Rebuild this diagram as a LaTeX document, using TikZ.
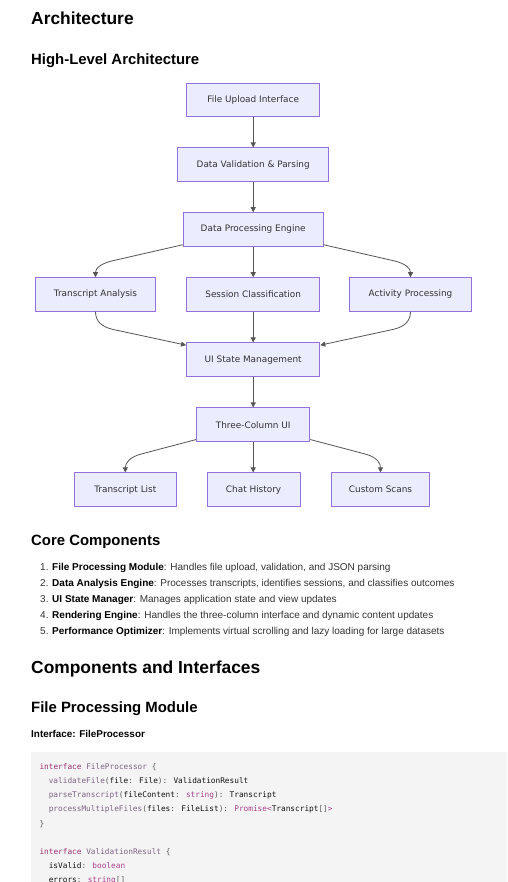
\documentclass[tikz,border=0pt]{standalone}
\usepackage{fontspec}
\setmainfont{Liberation Sans}
\newfontfamily\nodefont{DejaVu Sans}
\newfontfamily\codefont{DejaVu Sans Mono}
\usetikzlibrary{arrows.meta}
\definecolor{nodefill}{HTML}{ECECFF}
\definecolor{nodeline}{HTML}{9370DB}
\definecolor{edgecol}{HTML}{555555}
\definecolor{txt}{HTML}{333333}
\definecolor{codebg}{HTML}{F4F4F4}
\definecolor{ckw}{HTML}{9A3070}
\definecolor{cfn}{HTML}{7E6384}
\definecolor{cpu}{HTML}{5A5A5A}
\definecolor{cty}{HTML}{111111}
\definecolor{cbi}{HTML}{A8408C}
\newcommand{\ckw}[1]{\textcolor{ckw}{#1}}
\newcommand{\cfn}[1]{\textcolor{cfn}{#1}}
\newcommand{\cpu}[1]{\textcolor{cpu}{#1}}
\newcommand{\cty}[1]{\textcolor{cty}{#1}}
\newcommand{\cbi}[1]{\textcolor{cbi}{#1}}
\begin{document}
\begin{tikzpicture}[x=1pt,y=-1pt,
  box/.style={draw=nodeline, fill=nodefill, line width=0.9pt, minimum height=33.6pt,
    inner sep=0pt, text=txt, font=\nodefont\fontsize{8.9}{10}\selectfont},
  edge/.style={draw=edgecol, line width=0.8pt, -{Triangle[length=5pt,width=5pt]}},
  htwo/.style={anchor=base west, inner sep=0pt, font=\bfseries\fontsize{17.4}{20}\selectfont},
  hthree/.style={anchor=base west, inner sep=0pt, font=\bfseries\fontsize{14.9}{17}\selectfont},
  item/.style={anchor=base west, inner sep=0pt, text=txt, font=\fontsize{10}{12}\selectfont},
  code/.style={anchor=base west, inner sep=0pt, font=\codefont\fontsize{7.77}{9}\selectfont}]
\useasboundingbox (0,0) rectangle (507,882);
\fill[white] (0,0) rectangle (507,882);

% headings
\node[htwo] (h1) at (31,25) {Architecture};
\node[hthree] (h2) at (31,64.3) {High-Level Architecture};

% flowchart nodes
\node[box, minimum width=133pt] (fui) at (253.2,100) {File Upload Interface};
\node[box, minimum width=151pt] (dvp) at (253.2,164.7) {Data Validation \& Parsing};
\node[box, minimum width=140pt] (dpe) at (253.2,229.5) {Data Processing Engine};
\node[box, minimum width=120.4pt] (ta) at (95.5,294.5) {Transcript Analysis};
\node[box, minimum width=132.7pt] (sc) at (253.2,294.5) {Session Classification};
\node[box, minimum width=121.6pt] (ap) at (410.5,294.5) {Activity Processing};
\node[box, minimum width=133.3pt] (uis) at (253.2,359.7) {UI State Management};
\node[box, minimum width=113.3pt] (tcu) at (253.2,424.7) {Three-Column UI};
\node[box, minimum width=101.3pt] (tl) at (125.3,489.7) {Transcript List};
\node[box, minimum width=93pt] (ch) at (253.6,489.7) {Chat History};
\node[box, minimum width=98.4pt] (cs) at (380.5,489.7) {Custom Scans};

% connectors
\draw[edge] (fui) -- (dvp);
\draw[edge] (dvp) -- (dpe);
\draw[edge] (dpe.south) -- (sc.north);
\draw[edge] ([yshift=2pt]dpe.south west) -- ++(-70,16) .. controls +(-12,2.8) and +(0,-9) .. (ta.north);
\draw[edge] ([yshift=2pt]dpe.south east) -- ++(70,16) .. controls +(12,2.8) and +(0,-9) .. (ap.north);
\draw[edge] (sc.south) -- (uis.north);
\draw[edge] (ta.south) .. controls +(0,9) and +(-12,-2.75) .. ++(17.5,17.7) -- ([yshift=-2.7pt]uis.north west);
\draw[edge] (ap.south) .. controls +(0,9) and +(12,-2.75) .. ++(-17.5,17.7) -- ([yshift=-2.7pt]uis.north east);
\draw[edge] (uis.south) -- (tcu.north);
\draw[edge] (tcu.south) -- (tcu.south |- ch.north);
\draw[edge] ([yshift=2.4pt]tcu.south west) -- ++(-55,14.5) .. controls +(-12,3.2) and +(0,-9) .. (tl.north);
\draw[edge] ([yshift=2.4pt]tcu.south east) -- ++(55,14.5) .. controls +(12,3.2) and +(0,-9) .. (cs.north);

% core components
\node[hthree] (h3) at (31,545) {Core Components};
\node[item] (i1) at (40,570) {1. \textcolor{black}{\textbf{File Processing Module}}: Handles file upload, validation, and JSON parsing};
\node[item] (i2) at (40,586) {2. \textcolor{black}{\textbf{Data Analysis Engine}}: Processes transcripts, identifies sessions, and classifies outcomes};
\node[item] (i3) at (40,602) {3. \textcolor{black}{\textbf{UI State Manager}}: Manages application state and view updates};
\node[item] (i4) at (40,618) {4. \textcolor{black}{\textbf{Rendering Engine}}: Handles the three-column interface and dynamic content updates};
\node[item] (i5) at (40,634) {5. \textcolor{black}{\textbf{Performance Optimizer}}: Implements virtual scrolling and lazy loading for large datasets};

\node[htwo] (h4) at (31,673.3) {Components and Interfaces};
\node[hthree] (h5) at (31,712.3) {File Processing Module};
\node[anchor=base west, inner sep=0pt, font=\bfseries\fontsize{9.9}{12}\selectfont] (h6) at (31,737.3) {Interface: FileProcessor};

% code block
\begin{scope}
\clip (0,0) rectangle (507,882);
\fill[codebg] (30.7,752.3) rectangle (520,900);
\node[code] (c1) at (39.3,769.3) {\ckw{interface} \cfn{FileProcessor} \cpu{\{}};
\node[code] (c2) at (48.6,783.5) {\cfn{validateFile}\cpu{(}\cty{file}\cpu{:} \cty{File}\cpu{):} \cty{ValidationResult}};
\node[code] (c3) at (48.6,797.7) {\cfn{parseTranscript}\cpu{(}\cty{fileContent}\cpu{:} \cbi{string}\cpu{):} \cty{Transcript}};
\node[code] (c4) at (48.6,811.8) {\cfn{processMultipleFiles}\cpu{(}\cty{files}\cpu{:} \cty{FileList}\cpu{):} \cbi{Promise<}\cty{Transcript}\cpu{[]}\cbi{>}};
\node[code] (c5) at (39.3,826) {\cpu{\}}};
\node[code] (c7) at (39.3,854.3) {\ckw{interface} \cfn{ValidationResult} \cpu{\{}};
\node[code] (c8) at (48.6,868.5) {\cty{isValid}\cpu{:} \cbi{boolean}};
\node[code] (c9) at (48.6,882.7) {\cty{errors}\cpu{:} \cbi{string}\cpu{[]}};
\end{scope}
\end{tikzpicture}
\end{document}
